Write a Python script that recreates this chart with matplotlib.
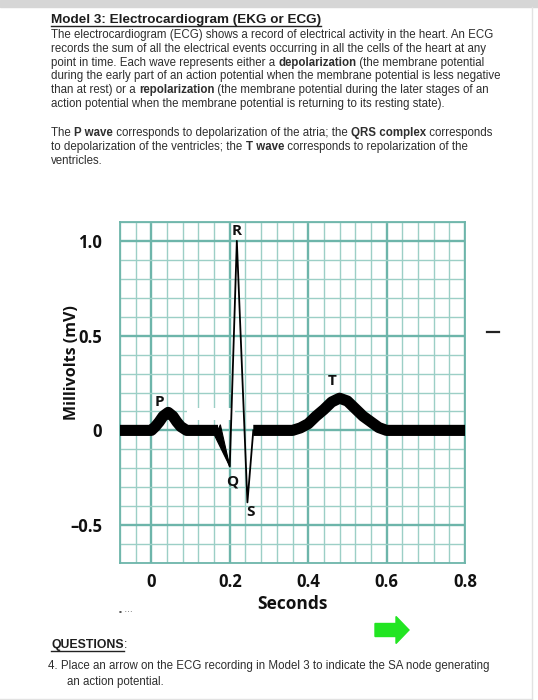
import matplotlib
matplotlib.use("Agg")
import matplotlib.pyplot as plt
from matplotlib.patches import Rectangle, Polygon, FancyArrow
from matplotlib.lines import Line2D

W, H = 538, 700

# ECG trace (seconds, millivolts)
p_time = [-0.08, 0.0, 0.01, 0.02, 0.03, 0.043, 0.055, 0.065, 0.075, 0.09, 0.17]
p_mv = [0.0, 0.0, 0.02, 0.045, 0.075, 0.095, 0.075, 0.045, 0.02, 0.0, 0.0]
qrs_time = [0.17, 0.20, 0.218, 0.245, 0.26]
qrs_mv = [0.0, -0.19, 1.0, -0.38, 0.0]
t_time = [0.26, 0.36, 0.38, 0.40, 0.42, 0.44, 0.46, 0.48, 0.50, 0.52, 0.54, 0.56, 0.58, 0.60, 0.80]
t_mv = [0.0, 0.0, 0.013, 0.035, 0.075, 0.11, 0.15, 0.17, 0.155, 0.115, 0.075, 0.045, 0.015, 0.0, 0.0]

wave_names = ["P", "Q", "R", "S", "T"]
wave_time = [0.02, 0.206, 0.218, 0.252, 0.46]
wave_mv = [0.15, -0.27, 1.05, -0.43, 0.26]

x_ticks = [0, 0.2, 0.4, 0.6, 0.8]
x_labels = ["0", "0.2", "0.4", "0.6", "0.8"]
y_ticks = [-0.5, 0, 0.5, 1.0]
y_labels = ["\u20130.5", "0", "0.5", "1.0"]

body_font = ["Liberation Sans Narrow", "Liberation Sans", "DejaVu Sans"]
head_font = ["Liberation Sans", "DejaVu Sans"]
chart_font = ["Open Sans", "DejaVu Sans"]
ink = "#2e2e2e"
grid_minor = "#9ccfc6"
grid_major = "#6db5aa"

fig = plt.figure(figsize=(W / 100, H / 100), dpi=100)
fig.patch.set_facecolor("white")
renderer = fig.canvas.get_renderer()


def text_width(s, size, family, weight):
    # pad with letters so leading/trailing spaces are counted
    t1 = fig.text(0, 0, "x" + s + "x", fontsize=size, family=family, weight=weight)
    t2 = fig.text(0, 0, "xx", fontsize=size, family=family, weight=weight)
    w = t1.get_window_extent(renderer).width - t2.get_window_extent(renderer).width
    t1.remove()
    t2.remove()
    return w


def rich_line(x_px, y_px, parts, size=8.3, family=body_font, color=ink):
    x = x_px
    for txt, bold in parts:
        weight = "bold" if bold else "normal"
        fig.text(x / W, 1 - y_px / H, txt, fontsize=size, family=family,
                 weight=weight, color=color, va="baseline", ha="left")
        x += text_width(txt, size, family, weight)
    return x


def underline(x0, x1, y_px, color="#222222"):
    fig.add_artist(Line2D([x0 / W, x1 / W], [1 - y_px / H, 1 - y_px / H],
                          color=color, lw=1.0, transform=fig.transFigure))


# page frame
fig.add_artist(Rectangle((0, 1 - 7 / H), 1, 7 / H, color="#d6d6d6",
                         transform=fig.transFigure, zorder=0))
fig.add_artist(Line2D([532 / W, 532 / W], [0, 1 - 7 / H], color="#e2e2e2",
                      lw=1, transform=fig.transFigure))
fig.add_artist(Line2D([0, 532 / W], [1.5 / H, 1.5 / H], color="#e2e2e2",
                      lw=1, transform=fig.transFigure))

# header text
x_end = rich_line(51, 23, [("Model 3: Electrocardiogram (EKG or ECG)", True)],
                  size=9.7, family=head_font, color="#1e1e1e")
underline(51, x_end, 25.8)

lines = [
    [("The electrocardiogram (ECG) shows a record of electrical activity in the heart. An ECG", False)],
    [("records the sum of all the electrical events occurring in all the cells of the heart at any", False)],
    [("point in time. Each wave represents either a ", False), ("depolarization", True),
     (" (the membrane potential", False)],
    [("during the early part of an action potential when the membrane potential is less negative", False)],
    [("than at rest) or a ", False), ("repolarization", True),
     (" (the membrane potential during the later stages of an", False)],
    [("action potential when the membrane potential is returning to its resting state).", False)],
]
for i, parts in enumerate(lines):
    rich_line(51, 37.8 + i * 13.9, parts)

para2 = [
    [("The ", False), ("P wave", True), (" corresponds to depolarization of the atria; the ", False),
     ("QRS complex", True), (" corresponds", False)],
    [("to depolarization of the ventricles; the ", False), ("T wave", True),
     (" corresponds to repolarization of the", False)],
    [("ventricles.", False)],
]
for i, parts in enumerate(para2):
    rich_line(51, 135.8 + i * 14.1, parts)

# ECG chart
ax = fig.add_axes([120 / W, 137 / H, 345 / W, 341 / H])
ax.set_xlim(-0.08, 0.80)
ax.set_ylim(-0.7, 1.1)
ax.set_xticks(x_ticks)
ax.set_xticklabels(x_labels)
ax.set_yticks(y_ticks)
ax.set_yticklabels(y_labels)
ax.set_xticks([-0.08 + 0.04 * i for i in range(23)], minor=True)
ax.set_yticks([-0.7 + 0.1 * i for i in range(19)], minor=True)
ax.tick_params(which="both", length=0)
ax.tick_params(axis="x", pad=7)
ax.tick_params(axis="y", pad=13)
for lab in ax.get_xticklabels() + ax.get_yticklabels():
    lab.set_fontfamily(chart_font)
    lab.set_fontweight("bold")
    lab.set_fontsize(12)
    lab.set_color("#111111")
ax.set_axisbelow(True)
ax.grid(which="minor", color=grid_minor, lw=1.0)
ax.grid(which="major", color=grid_major, lw=1.7)
for sp in ax.spines.values():
    sp.set_color(grid_major)
    sp.set_linewidth(1.3)

ax.set_xlabel("Seconds", fontfamily=chart_font, fontweight="bold", fontsize=12.5,
              color="#111111", labelpad=3)
fig.text(72 / W, 1 - 363 / H, "Millivolts (mV)", rotation=90, ha="center", va="center",
         fontfamily=chart_font, fontweight="bold", fontsize=11.5, color="#111111")

# white patch over the grid above the PR segment
ax.add_patch(Rectangle((0.092, 0.055), 0.122, 0.065, facecolor="white",
                       edgecolor="none", zorder=1.5))

band = 8.0
ax.plot(p_time, p_mv, color="black", lw=band, solid_joinstyle="round",
        solid_capstyle="butt", zorder=3)
ax.plot(t_time, t_mv, color="black", lw=band, solid_joinstyle="round",
        solid_capstyle="butt", zorder=3)
ax.plot(qrs_time, qrs_mv, color="black", lw=1.3, zorder=3)
# tapered start of the Q dip
ax.add_patch(Polygon([(qrs_time[0] + 0.006, 0.03), (qrs_time[0] - 0.008, -0.03),
                      (qrs_time[1], qrs_mv[1])], closed=True, facecolor="black",
                     edgecolor="black", lw=0.8, zorder=3))

for name, tx, ty in zip(wave_names, wave_time, wave_mv):
    ax.text(tx, ty, name, ha="center", va="center", fontfamily=chart_font,
            fontweight="bold", fontsize=11, color="#111111", zorder=4)

# stray marks beside the chart
fig.add_artist(Line2D([487 / W, 499 / W], [1 - 332 / H, 1 - 332 / H], color="#222222",
                      lw=1.6, transform=fig.transFigure))
fig.text(119 / W, 1 - 614 / H, "\u25aa \u00b7\u00b7\u00b7", fontsize=6, color="#555555",
         family=body_font)

# green arrow
fig.add_artist(FancyArrow(375 / W, 1 - 630 / H, 34 / W, 0, width=13 / H,
                          head_width=27 / H, head_length=13 / W,
                          length_includes_head=True, color="#22e522",
                          transform=fig.transFigure))

# questions
x_end = rich_line(51, 648, [("QUESTIONS", True), (":", False)], size=8.8,
                  family=head_font, color="#1e1e1e")
underline(51, x_end - 3, 650.8)
rich_line(48, 668.5, [("4. Place an arrow on the ECG recording in Model 3 to indicate the SA node generating", False)])
rich_line(67, 684.5, [("an action potential.", False)])

fig.savefig("out.png", dpi=100, facecolor="white")
